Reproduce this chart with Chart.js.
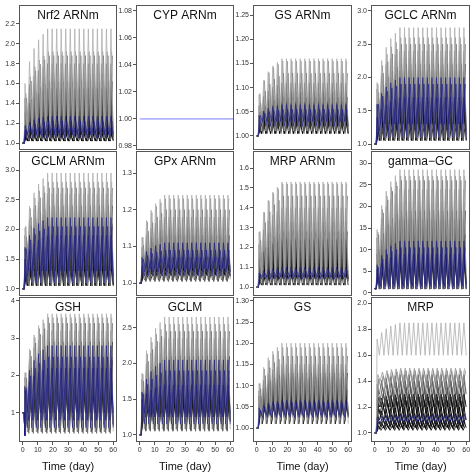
<!DOCTYPE html>
<html>
<head>
<meta charset="utf-8">
<script src="https://cdn.jsdelivr.net/npm/chart.js@4"></script>
<style>
  body { margin: 0; background: #fff; }
  #wrap { position: relative; width: 474px; height: 474px; }
  canvas { position: absolute; }
</style>
</head>
<body>
<div id="wrap"></div>
<script>
// Panel titles, row by row
const titles = ["Nrf2 ARNm", "CYP ARNm", "GS ARNm", "GCLC ARNm",
                "GCLM ARNm", "GPx ARNm", "MRP ARNm", "gamma\u2212GC",
                "GSH", "GCLM", "GS", "MRP"];

// Tick labels of each y axis
const yTicks = [
  [1.0, 1.2, 1.4, 1.6, 1.8, 2.0, 2.2],
  [0.98, 1.00, 1.02, 1.04, 1.06, 1.08],
  [1.00, 1.05, 1.10, 1.15, 1.20, 1.25],
  [1.0, 1.5, 2.0, 2.5, 3.0],
  [1.0, 1.5, 2.0, 2.5, 3.0],
  [1.0, 1.1, 1.2, 1.3],
  [1.0, 1.1, 1.2, 1.3, 1.4, 1.5, 1.6],
  [0, 5, 10, 15, 20, 25, 30],
  [1, 2, 3, 4],
  [1.0, 1.5, 2.0, 2.5],
  [1.00, 1.05, 1.10, 1.15, 1.20, 1.25, 1.30],
  [1.0, 1.2, 1.4, 1.6, 1.8, 2.0]
];
const yDecimals = [1, 2, 2, 1, 1, 1, 1, 0, 0, 1, 2, 1];
const yMin = [0.93, 0.977, 0.971, 0.91, 0.88, 0.965, 0.955, -0.7, 0.22, 0.90, 0.967, 0.93];
const yMax = [2.39, 1.0844, 1.271, 3.09, 3.32, 1.36, 1.686, 32.8, 4.1, 2.93, 1.309, 2.05];
const xTicks = [0, 10, 20, 30, 40, 50, 60];

// Peak and trough levels of the grey traces (one pair per trace)
const greyPeaks = [
  [2.15, 1.92, 1.88, 1.8, 1.7, 1.62, 1.55, 1.45, 1.38, 1.32, 1.27, 1.22, 1.18, 1.15, 1.12, 1.1],
  [],
  [1.16, 1.155, 1.13, 1.11, 1.09, 1.08, 1.07, 1.06, 1.055, 1.05, 1.04, 1.035, 1.03],
  [2.75, 2.6, 2.5, 2.4, 2.3, 2.2, 2.1, 2.0, 1.9, 1.8, 1.7, 1.6, 1.5, 1.4, 1.3],
  [2.95, 2.8, 2.7, 2.6, 2.5, 2.4, 2.3, 2.2, 2.1, 2.0, 1.9, 1.8, 1.7, 1.6, 1.5, 1.4],
  [1.24, 1.23, 1.2, 1.18, 1.15, 1.13, 1.11, 1.09, 1.07, 1.05, 1.04, 1.03, 1.03],
  [1.53, 1.52, 1.46, 1.4, 1.33, 1.28, 1.24, 1.2, 1.17, 1.14, 1.12, 1.1, 1.08, 1.06],
  [28.5, 27, 26, 24, 21, 19, 17, 15, 13.5, 12.5, 11.5, 10.5, 9.5, 8.5],
  [3.65, 3.55, 3.4, 3.2, 3.0, 2.9, 2.8, 2.6, 2.4, 2.2, 2.0, 1.8],
  [2.65, 2.55, 2.45, 2.35, 2.2, 2.1, 2.0, 1.9, 1.8, 1.7, 1.6, 1.5],
  [1.2, 1.19, 1.17, 1.15, 1.14, 1.13, 1.12, 1.1, 1.09, 1.08, 1.07, 1.06],
  [1.85, 1.5, 1.48, 1.45, 1.4, 1.35, 1.3, 1.28, 1.25, 1.2, 1.15, 1.12, 1.1, 1.08, 1.06]
];
const greyTroughs = [
  [1.05, 1.08, 1.03, 1.1, 1.04, 1.02, 1.06, 1.03, 1.02, 1.05, 1.02, 1.03, 1.02, 1.04, 1.02, 1.03],
  [],
  [1.01, 1.02, 1.005, 1.015, 1.01, 1.02, 1.005, 1.01, 1.015, 1.01, 1.02, 1.01, 1.005],
  [1.1, 1.2, 1.05, 1.25, 1.08, 1.15, 1.05, 1.1, 1.2, 1.06, 1.12, 1.08, 1.15, 1.1, 1.05],
  [1.1, 1.3, 1.05, 1.2, 1.08, 1.25, 1.05, 1.12, 1.18, 1.06, 1.1, 1.22, 1.08, 1.15, 1.05, 1.1],
  [1.01, 1.02, 1.005, 1.015, 1.01, 1.02, 1.03, 1.01, 1.015, 1.02, 1.01, 1.005, 1.02],
  [1.02, 1.04, 1.01, 1.03, 1.02, 1.01, 1.03, 1.02, 1.01, 1.04, 1.02, 1.03, 1.01, 1.02],
  [0.8, 1.2, 1.0, 1.5, 0.9, 1.3, 1.0, 1.8, 1.1, 0.9, 1.4, 1.0, 2.0, 1.2],
  [0.5, 0.6, 0.45, 0.7, 0.5, 0.55, 0.65, 0.5, 0.6, 0.7, 0.55, 0.8],
  [1.08, 1.15, 1.05, 1.2, 1.1, 1.06, 1.18, 1.08, 1.12, 1.2, 1.1, 1.15],
  [1.01, 1.02, 1.015, 1.025, 1.01, 1.02, 1.03, 1.015, 1.02, 1.025, 1.01, 1.03],
  [1.6, 1.4, 1.35, 1.3, 1.25, 1.2, 1.2, 1.15, 1.12, 1.1, 1.07, 1.05, 1.04, 1.03, 1.02]
];
// Blue traces
const bluePeaks = [
  [1.27, 1.22, 1.15], [1.0], [1.065, 1.055], [2.0, 1.9, 1.7],
  [2.2, 2.05, 1.9], [1.11, 1.09, 1.07], [1.1, 1.08], [12, 10.5, 9],
  [2.8, 2.5, 2.2], [2.05, 1.9, 1.7], [1.065, 1.06], [1.14, 1.12]
];
const blueTroughs = [
  [1.08, 1.05, 1.1], [1.0], [1.02, 1.03], [1.2, 1.3, 1.1],
  [1.2, 1.3, 1.1], [1.03, 1.04, 1.02], [1.04, 1.05], [1, 1.5, 2],
  [0.6, 0.8, 1.0], [1.15, 1.25, 1.3], [1.03, 1.025], [1.1, 1.08]
];
// First cycles are smaller than later ones (fraction of full swing)
const earlyRamp = [0.5, 0.7, 0.82, 0.9, 0.95];
const GSH_DIP = 0.4; // GSH drops below 1 right after day 1

// Layout of the boxes
const colL = [19, 136, 253, 371];
const colW = [96, 96, 97, 97];
const rowT = [5, 151, 297];
const rowH = 145;
const AXW = 20;

function trace(p, tr, shift, panel) {
  const pts = [{x: 0, y: 1}, {x: 1, y: 1}];
  if (p === tr) { pts.push({x: 62.5, y: p}); return pts; }
  if (panel === 8) pts.push({x: 1.3, y: GSH_DIP});
  let k = 0;
  for (let t = 1.5 + shift; t <= 60; t += 1.5, k++) {
    const cyc = Math.floor(k / 2);
    const r = cyc < earlyRamp.length ? earlyRamp[cyc] : 1;
    const y = k % 2 === 0 ? tr + (p - tr) * r : tr;
    pts.push({x: t, y: y});
  }
  return pts;
}

const boxPlugin = {
  id: "box",
  afterDraw(chart) {
    const a = chart.chartArea, c = chart.ctx;
    c.save();
    c.strokeStyle = "#555"; c.lineWidth = 1;
    c.strokeRect(a.left + 0.5, a.top + 0.5, a.right - a.left - 1, a.bottom - a.top - 1);
    c.fillStyle = "#111";
    c.font = "12px 'Liberation Sans', Arial, sans-serif";
    c.textAlign = "center"; c.textBaseline = "top";
    c.fillText(chart.options.plugins.panelTitle, (a.left + a.right) / 2, a.top + 5);
    c.restore();
  }
};

const wrap = document.getElementById("wrap");
titles.forEach((title, i) => {
  const row = Math.floor(i / 4), col = i % 4;
  const bottom = row === 2;
  const w = colW[col] + AXW + 2, h = rowH + (bottom ? 32 : 0);
  const cv = document.createElement("canvas");
  cv.width = w; cv.height = h;
  cv.style.left = (colL[col] - AXW) + "px";
  cv.style.top = rowT[row] + "px";
  cv.style.width = w + "px"; cv.style.height = h + "px";
  wrap.appendChild(cv);

  // blue traces first so they are drawn on top of the grey ones
  const datasets = [];
  bluePeaks[i].forEach((p, j) => {
    datasets.push({
      data: trace(p, blueTroughs[i][j], (j % 2) * 0.75, i),
      borderColor: i === 1 ? "#7b7bff" : "rgba(30,30,130,0.7)",
      borderWidth: i === 1 ? 1 : 0.9
    });
  });
  const n = greyPeaks[i].length;
  greyPeaks[i].forEach((p, j) => {
    const g = Math.round(175 - 175 * Math.min(1, 2.2 * j / Math.max(1, n - 1)));
    datasets.push({
      data: trace(p, greyTroughs[i][j], (j % 3) * 0.5, i),
      borderColor: `rgb(${g},${g},${g})`,
      borderWidth: 0.8
    });
  });

  new Chart(cv, {
    type: "line",
    data: {datasets: datasets},
    options: {
      responsive: false, animation: false, devicePixelRatio: 1,
      layout: {padding: 0},
      elements: {point: {radius: 0}, line: {tension: 0}},
      plugins: {legend: {display: false}, tooltip: {enabled: false}, panelTitle: title},
      scales: {
        x: {
          type: "linear", min: -2.5, max: 62.5,
          display: bottom,
          afterBuildTicks: s => { s.ticks = xTicks.map(v => ({value: v})); },
          afterFit: s => { s.height = bottom ? 32 : 0; s.paddingLeft = 0; s.paddingRight = 0; },
          grid: {drawOnChartArea: false, tickLength: 3, color: "#555"},
          border: {display: false},
          ticks: {font: {size: 7, family: "Liberation Sans"}, color: "#333", padding: 1, maxRotation: 0},
          title: {display: true, text: "Time (day)", padding: 0,
                  font: {size: 11, family: "Liberation Sans"}, color: "#111"}
        },
        y: {
          min: yMin[i], max: yMax[i],
          afterBuildTicks: s => { s.ticks = yTicks[i].map(v => ({value: v})); },
          afterFit: s => { s.width = AXW; s.paddingTop = 0; s.paddingBottom = 0; },
          grid: {drawOnChartArea: false, tickLength: 3, color: "#555"},
          border: {display: false},
          ticks: {font: {size: 7, family: "Liberation Sans"}, color: "#333", padding: 1,
                  callback: v => v.toFixed(yDecimals[i])}
        }
      }
    },
    plugins: [boxPlugin]
  });
});
</script>
</body>
</html>
